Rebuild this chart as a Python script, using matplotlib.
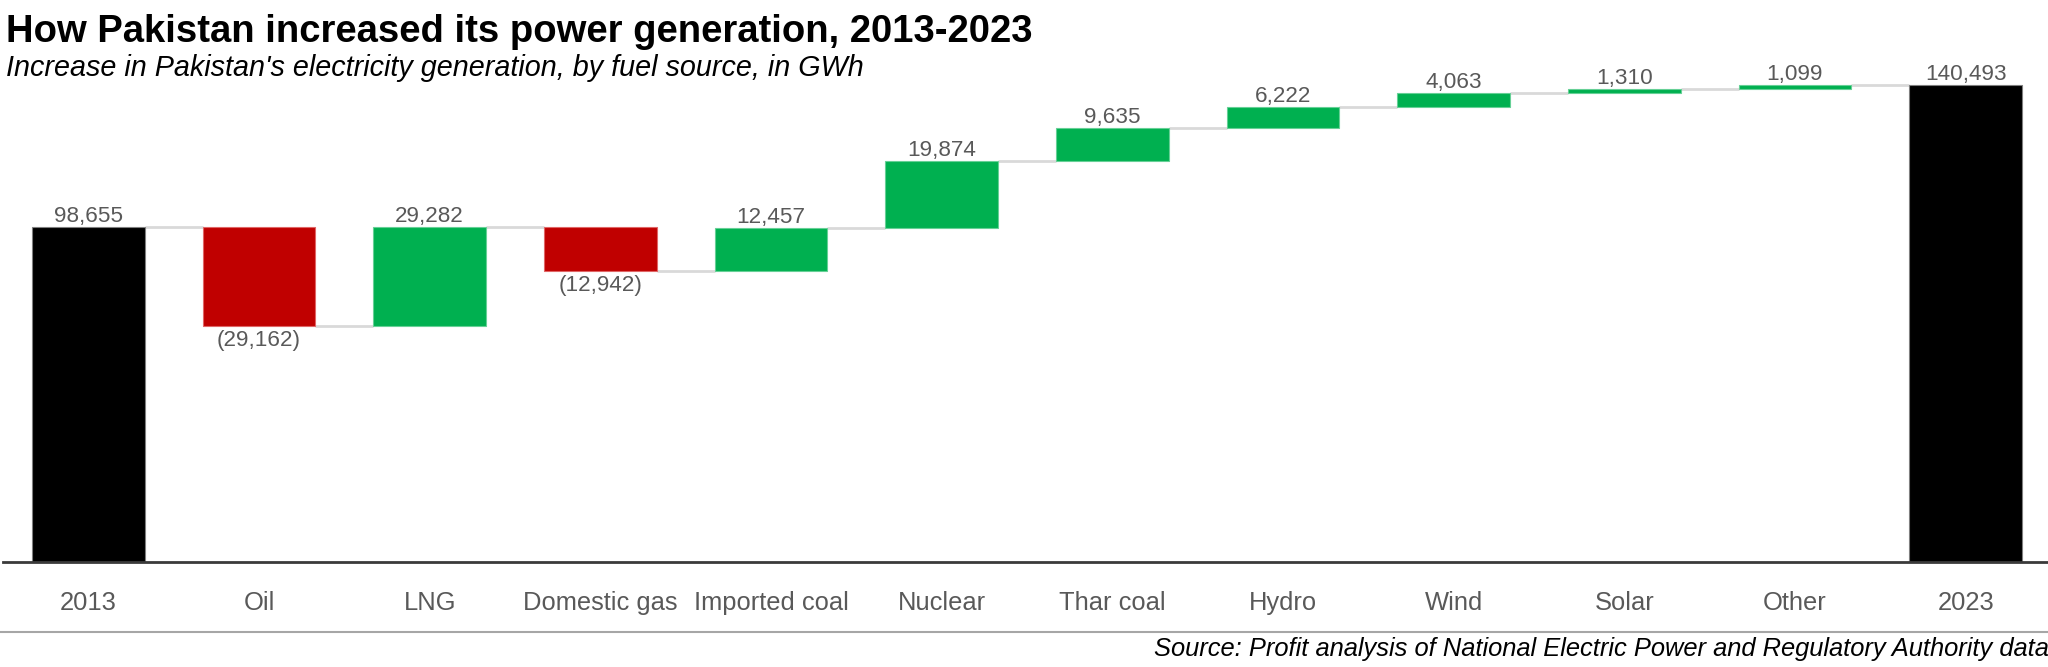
import matplotlib
matplotlib.use("Agg")
import matplotlib.pyplot as plt
from matplotlib.lines import Line2D

plt.rcParams['font.family'] = ['Liberation Sans', 'DejaVu Sans']

categories = ["2013", "Oil", "LNG", "Domestic gas", "Imported coal", "Nuclear",
              "Thar coal", "Hydro", "Wind", "Solar", "Other", "2023"]
changes = [98655, -29162, 29282, -12942, 12457, 19874, 9635, 6222, 4063, 1310, 1099, 140493]
is_total = [True] + [False] * 10 + [True]

BLACK = "#000000"
RED = "#C00000"
GREEN = "#00B050"
LABEL_GRAY = "#595959"

W, H = 2048, 667
fig = plt.figure(figsize=(W / 100, H / 100), dpi=100)
# axes placed in pixels: baseline at y=562 from top
ax = fig.add_axes([3 / W, 105 / H, 1.0, 509 / H])

# running levels for the waterfall
bottoms = []
tops = []
level = 0
for val, tot in zip(changes, is_total):
    if tot:
        bottoms.append(0)
        tops.append(val)
        level = val
    else:
        start = level
        level = level + val
        bottoms.append(min(start, level))
        tops.append(max(start, level))

colors = []
edges = []
for val, tot in zip(changes, is_total):
    if tot:
        colors.append(BLACK)
        edges.append("#7f7f7f")
    elif val < 0:
        colors.append(RED)
        edges.append("#e06666")
    else:
        colors.append(GREEN)
        edges.append("#66d096")

x = list(range(len(categories)))
bw = 0.662
heights = [t - b for t, b in zip(tops, bottoms)]
ax.bar(x, heights, bottom=bottoms, width=bw, color=colors,
       edgecolor=edges, linewidth=0.8, zorder=3)

# connectors between bars at running level
level = 0
for i, (val, tot) in enumerate(zip(changes, is_total)):
    level = val if tot else level + val
    if i < len(changes) - 1:
        ax.plot([i + bw / 2, i + 1 - bw / 2], [level, level],
                color="#d9d9d9", lw=2, zorder=2, solid_capstyle="butt")

# value labels
for i, val in enumerate(changes):
    if val < 0:
        ax.annotate("({:,})".format(-val), (i, bottoms[i]), xytext=(0, -4),
                    textcoords="offset pixels", ha="center", va="top",
                    fontsize=16.2, color=LABEL_GRAY)
    else:
        ax.annotate("{:,}".format(val), (i, tops[i]), xytext=(0, 5),
                    textcoords="offset pixels", ha="center", va="baseline",
                    fontsize=16.2, color=LABEL_GRAY)

ax.set_xlim(-0.5, 11.5)
ax.set_ylim(0, 150000)
ax.set_xticks(x)
ax.set_xticklabels(categories, fontsize=18.4, color=LABEL_GRAY)
ax.tick_params(axis="x", length=0, pad=21)
ax.yaxis.set_visible(False)
for s in ["top", "right", "left"]:
    ax.spines[s].set_visible(False)
ax.spines["bottom"].set_color("#3a3a3a")
ax.spines["bottom"].set_linewidth(2)
ax.spines["bottom"].set_zorder(4)

fig.text(6 / W, 1 - 42 / H, "How Pakistan increased its power generation, 2013-2023",
         fontsize=27.5, fontweight="bold", ha="left", va="baseline", color="black")
fig.text(6 / W, 1 - 76 / H, "Increase in Pakistan's electricity generation, by fuel source, in GWh",
         fontsize=20.7, fontstyle="italic", ha="left", va="baseline", color="black")

fig.add_artist(Line2D([0, 1], [1 - 632 / H, 1 - 632 / H], transform=fig.transFigure,
                      color="#a6a6a6", lw=1.5))
fig.text(1154 / W, 1 - 656 / H,
         "Source: Profit analysis of National Electric Power and Regulatory Authority data",
         fontsize=18.4, fontstyle="italic", ha="left", va="baseline", color="black")

fig.savefig("out.png", dpi=100)
